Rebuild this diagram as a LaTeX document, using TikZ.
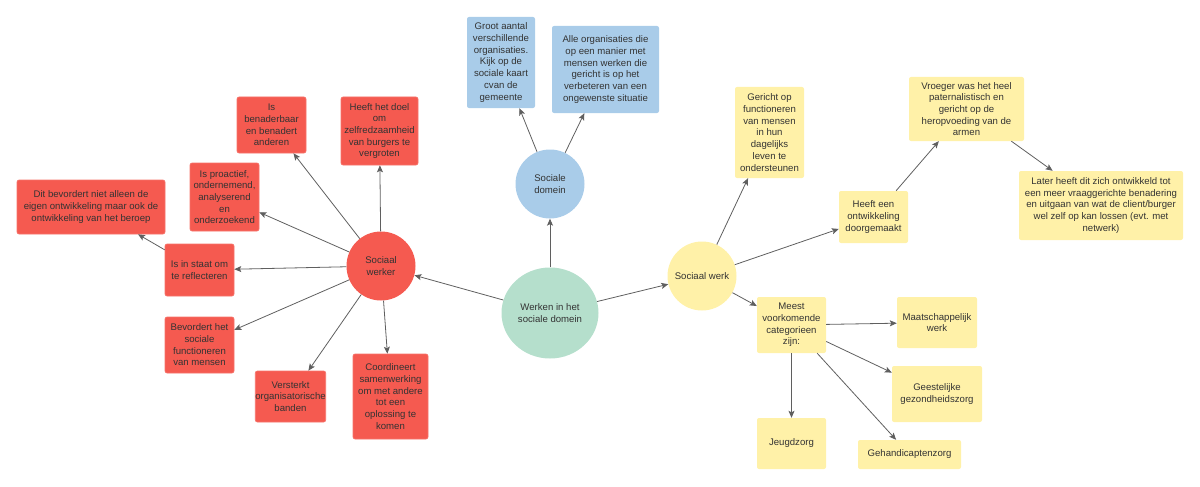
\documentclass[tikz,border=0pt]{standalone}
\usepackage{fontspec}
\setmainfont{Liberation Sans}
\usetikzlibrary{arrows.meta,shapes.geometric}
\definecolor{rood}{HTML}{F55A50}
\definecolor{blauw}{HTML}{A9CCE9}
\definecolor{geel}{HTML}{FFF1A8}
\definecolor{groen}{HTML}{B5DFCC}
\definecolor{lijn}{HTML}{5F5F5F}
\definecolor{tekst}{HTML}{333333}
\tikzset{
  box/.style={rectangle,rounded corners=2pt,inner sep=0pt,align=center,text=tekst,
    font=\fontsize{9.6}{11.7}\selectfont},
  redbox/.style={box,fill=rood,draw=rood!85!white,line width=0.6pt},
  bluebox/.style={box,fill=blauw},
  yellowbox/.style={box,fill=geel},
  rondje/.style={circle,inner sep=0pt,minimum size=69,align=center,text=tekst,
    font=\fontsize{9.6}{11.7}\selectfont},
  pijl/.style={draw=lijn,line width=0.8pt,-{Stealth[length=7pt,width=6pt,inset=1.5pt]}},
}
\begin{document}
\begin{tikzpicture}[x=1pt,y=-1pt]
\useasboundingbox(0,0)rectangle(1200,487);
%
\node[ellipse,fill=groen,minimum width=97,minimum height=91,inner sep=0pt,align=center,text=tekst,font=\fontsize{9.6}{11.7}\selectfont](werken)at(550,313){Werken in het\\sociale domein};
\node[rondje,fill=rood](werker)at(381,266){Sociaal\\werker};
\node[rondje,fill=blauw](domein)at(550,184){Sociale\\domein};
\node[rondje,fill=geel](werk)at(702,276){Sociaal werk};
%
\node[redbox,minimum width=69,minimum height=56](benad)at(271.5,125){Is\\benaderbaar\\en benadert\\anderen};
\node[redbox,minimum width=77,minimum height=68](doel)at(379.5,131){Heeft het doel\\om\\zelfredzaamheid\\van burgers te\\vergroten};
\node[redbox,minimum width=69,minimum height=68](proact)at(224.5,197){Is proactief,\\ondernemend,\\analyserend\\en\\onderzoekend};
\node[redbox,minimum width=148,minimum height=54](beroep)at(91,207){Dit bevordert niet alleen de\\eigen ontwikkeling maar ook de\\ontwikkeling van het beroep};
\node[redbox,minimum width=69,minimum height=52](reflect)at(199.5,270){Is in staat om\\te reflecteren};
\node[redbox,minimum width=69,minimum height=56](functie)at(199.5,345){Bevordert het\\sociale\\functioneren\\van mensen};
\node[redbox,minimum width=69,minimum height=51](banden)at(290.5,396.5){Versterkt\\organisatorische\\banden};
\node[redbox,minimum width=75,minimum height=85](coord)at(390.5,396.5){Coordineert\\samenwerking\\om met andere\\tot een\\oplossing te\\komen};
%
\node[bluebox,minimum width=68,minimum height=91](groot)at(501,62.5){Groot aantal\\verschillende\\organisaties.\\Kijk op de\\sociale kaart\\cvan de\\gemeente};
\node[bluebox,minimum width=107,minimum height=87](alle)at(605.5,69.5){Alle organisaties die\\op een manier met\\mensen werken die\\gericht is op het\\verbeteren van een\\ongewenste situatie};
%
\node[yellowbox,minimum width=69,minimum height=91](gericht)at(769.5,132.5){Gericht op\\functioneren\\van mensen\\in hun\\dagelijks\\leven te\\ondersteunen};
\node[yellowbox,minimum width=69,minimum height=52](ontw)at(873.5,217){Heeft een\\ontwikkeling\\doorgemaakt};
\node[yellowbox,minimum width=115,minimum height=64](vroeger)at(966.5,109){Vroeger was het heel\\paternalistisch en\\gericht op de\\heropvoeding van de\\armen};
\node[yellowbox,minimum width=164,minimum height=69](later)at(1101,205.5){Later heeft dit zich ontwikkeld tot\\een meer vraaggerichte benadering\\en uitgaan van wat de client/burger\\wel zelf op kan lossen (evt. met\\netwerk)};
\node[yellowbox,minimum width=69,minimum height=56](meest)at(791.5,325){Meest\\voorkomende\\categorieen\\zijn:};
\node[yellowbox,minimum width=80,minimum height=51](maats)at(937,322.5){Maatschappelijk\\werk};
\node[yellowbox,minimum width=90,minimum height=56](geest)at(937,394){Geestelijke\\gezondheidszorg};
\node[yellowbox,minimum width=69,minimum height=51](jeugd)at(791.5,443.5){Jeugdzorg};
\node[yellowbox,minimum width=103,minimum height=29](gehand)at(909.5,454.5){Gehandicaptenzorg};
%
\draw[pijl](werken)--(werker);
\draw[pijl](werken)--(domein);
\draw[pijl](werken)--(werk);
%
\foreach \n in {benad,doel,proact,reflect,functie,banden,coord}
  \draw[pijl](werker)--(\n);
\draw[pijl](reflect)--(beroep);
%
\draw[pijl](domein)--(groot);
\draw[pijl](domein)--(alle);
%
\foreach \n in {gericht,ontw,meest}
  \draw[pijl](werk)--(\n);
\draw[pijl](ontw)--(vroeger);
\draw[pijl](vroeger)--(later);
\foreach \n in {maats,geest,jeugd,gehand}
  \draw[pijl](meest)--(\n);
\end{tikzpicture}
\end{document}
